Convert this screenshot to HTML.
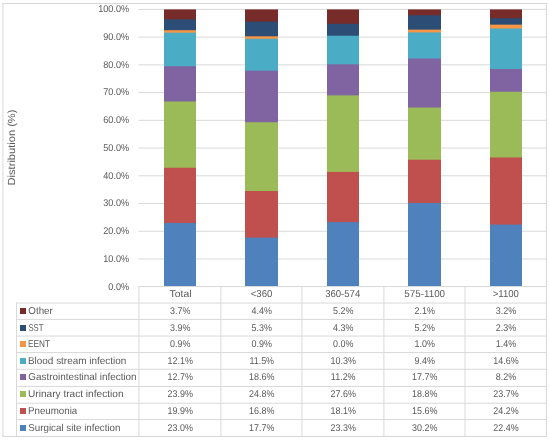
<!DOCTYPE html><html><head><meta charset="utf-8"><style>html,body{margin:0;padding:0;background:#fff;}svg{display:block;}text{font-family:"Liberation Sans", sans-serif;fill:#595959;text-rendering:geometricPrecision;}</style></head><body>
<svg width="550" height="440" viewBox="0 0 550 440">
<rect x="0" y="0" width="550" height="440" fill="#fff"/>
<rect x="138.40" y="258.47" width="408.10" height="1" fill="#d9d9d9"/>
<rect x="138.40" y="230.74" width="408.10" height="1" fill="#d9d9d9"/>
<rect x="138.40" y="203.01" width="408.10" height="1" fill="#d9d9d9"/>
<rect x="138.40" y="175.28" width="408.10" height="1" fill="#d9d9d9"/>
<rect x="138.40" y="147.55" width="408.10" height="1" fill="#d9d9d9"/>
<rect x="138.40" y="119.82" width="408.10" height="1" fill="#d9d9d9"/>
<rect x="138.40" y="92.09" width="408.10" height="1" fill="#d9d9d9"/>
<rect x="138.40" y="64.36" width="408.10" height="1" fill="#d9d9d9"/>
<rect x="138.40" y="36.63" width="408.10" height="1" fill="#d9d9d9"/>
<rect x="138.40" y="8.90" width="408.10" height="1" fill="#d9d9d9"/>
<text x="129.1" y="289.60" font-size="9.80" text-anchor="end" textLength="20.74" lengthAdjust="spacingAndGlyphs">0.0%</text>
<text x="129.1" y="261.87" font-size="9.80" text-anchor="end" textLength="25.80" lengthAdjust="spacingAndGlyphs">10.0%</text>
<text x="129.1" y="234.14" font-size="9.80" text-anchor="end" textLength="25.80" lengthAdjust="spacingAndGlyphs">20.0%</text>
<text x="129.1" y="206.41" font-size="9.80" text-anchor="end" textLength="25.80" lengthAdjust="spacingAndGlyphs">30.0%</text>
<text x="129.1" y="178.68" font-size="9.80" text-anchor="end" textLength="25.80" lengthAdjust="spacingAndGlyphs">40.0%</text>
<text x="129.1" y="150.95" font-size="9.80" text-anchor="end" textLength="25.80" lengthAdjust="spacingAndGlyphs">50.0%</text>
<text x="129.1" y="123.22" font-size="9.80" text-anchor="end" textLength="25.80" lengthAdjust="spacingAndGlyphs">60.0%</text>
<text x="129.1" y="95.49" font-size="9.80" text-anchor="end" textLength="25.80" lengthAdjust="spacingAndGlyphs">70.0%</text>
<text x="129.1" y="67.76" font-size="9.80" text-anchor="end" textLength="25.80" lengthAdjust="spacingAndGlyphs">80.0%</text>
<text x="129.1" y="40.03" font-size="9.80" text-anchor="end" textLength="25.80" lengthAdjust="spacingAndGlyphs">90.0%</text>
<text x="129.1" y="12.30" font-size="9.80" text-anchor="end" textLength="30.86" lengthAdjust="spacingAndGlyphs">100.0%</text>
<text transform="translate(14.9,185.41) rotate(-90)" x="0" y="0" font-size="10.30" textLength="75.80" lengthAdjust="spacingAndGlyphs">Distribution (%)</text>
<rect x="164" y="9.40" width="32" height="276.60" fill="#772c2a"/>
<rect x="164" y="19.38" width="32" height="266.62" fill="#2c4d75"/>
<rect x="164" y="30.20" width="32" height="255.80" fill="#f79646"/>
<rect x="164" y="32.69" width="32" height="253.31" fill="#4bacc6"/>
<rect x="164" y="66.25" width="32" height="219.75" fill="#8064a2"/>
<rect x="164" y="101.46" width="32" height="184.54" fill="#9bbb59"/>
<rect x="164" y="167.74" width="32" height="118.26" fill="#c0504d"/>
<rect x="164" y="222.92" width="32" height="63.08" fill="#4f81bd"/>
<rect x="245" y="9.40" width="33" height="276.60" fill="#772c2a"/>
<rect x="245" y="21.60" width="33" height="264.40" fill="#2c4d75"/>
<rect x="245" y="36.30" width="33" height="249.70" fill="#f79646"/>
<rect x="245" y="38.79" width="33" height="247.21" fill="#4bacc6"/>
<rect x="245" y="70.68" width="33" height="215.32" fill="#8064a2"/>
<rect x="245" y="122.26" width="33" height="163.74" fill="#9bbb59"/>
<rect x="245" y="191.03" width="33" height="94.97" fill="#c0504d"/>
<rect x="245" y="237.62" width="33" height="48.38" fill="#4f81bd"/>
<rect x="327" y="9.40" width="32" height="276.60" fill="#772c2a"/>
<rect x="327" y="23.82" width="32" height="262.18" fill="#2c4d75"/>
<rect x="327" y="35.74" width="32" height="250.26" fill="#4bacc6"/>
<rect x="327" y="64.31" width="32" height="221.69" fill="#8064a2"/>
<rect x="327" y="95.36" width="32" height="190.64" fill="#9bbb59"/>
<rect x="327" y="171.90" width="32" height="114.10" fill="#c0504d"/>
<rect x="327" y="222.09" width="32" height="63.91" fill="#4f81bd"/>
<rect x="408" y="9.40" width="33" height="276.60" fill="#772c2a"/>
<rect x="408" y="15.22" width="33" height="270.78" fill="#2c4d75"/>
<rect x="408" y="29.64" width="33" height="256.36" fill="#f79646"/>
<rect x="408" y="32.42" width="33" height="253.58" fill="#4bacc6"/>
<rect x="408" y="58.48" width="33" height="227.52" fill="#8064a2"/>
<rect x="408" y="107.56" width="33" height="178.44" fill="#9bbb59"/>
<rect x="408" y="159.70" width="33" height="126.30" fill="#c0504d"/>
<rect x="408" y="202.96" width="33" height="83.04" fill="#4f81bd"/>
<rect x="490" y="9.40" width="32" height="276.60" fill="#772c2a"/>
<rect x="490" y="18.27" width="32" height="267.73" fill="#2c4d75"/>
<rect x="490" y="24.65" width="32" height="261.35" fill="#f79646"/>
<rect x="490" y="28.53" width="32" height="257.47" fill="#4bacc6"/>
<rect x="490" y="69.02" width="32" height="216.98" fill="#8064a2"/>
<rect x="490" y="91.76" width="32" height="194.24" fill="#9bbb59"/>
<rect x="490" y="157.48" width="32" height="128.52" fill="#c0504d"/>
<rect x="490" y="224.58" width="32" height="61.42" fill="#4f81bd"/>
<rect x="138.40" y="286.05" width="408.10" height="1" fill="#d9d9d9"/>
<rect x="16" y="302.55" width="530.50" height="1" fill="#d9d9d9"/>
<rect x="16" y="318.90" width="530.50" height="1" fill="#d9d9d9"/>
<rect x="16" y="335.55" width="530.50" height="1" fill="#d9d9d9"/>
<rect x="16" y="352.05" width="530.50" height="1" fill="#d9d9d9"/>
<rect x="16" y="368.77" width="530.50" height="1" fill="#d9d9d9"/>
<rect x="16" y="385.95" width="530.50" height="1" fill="#d9d9d9"/>
<rect x="16" y="402.73" width="530.50" height="1" fill="#d9d9d9"/>
<rect x="16" y="419.07" width="530.50" height="1" fill="#d9d9d9"/>
<rect x="16" y="435.95" width="530.50" height="1" fill="#d9d9d9"/>
<rect x="16" y="302.55" width="1" height="134.40" fill="#d9d9d9"/>
<rect x="138.40" y="286.05" width="1" height="150.90" fill="#d9d9d9"/>
<rect x="220.40" y="286.05" width="1" height="150.90" fill="#d9d9d9"/>
<rect x="301.45" y="286.05" width="1" height="150.90" fill="#d9d9d9"/>
<rect x="383.40" y="286.05" width="1" height="150.90" fill="#d9d9d9"/>
<rect x="464.50" y="286.05" width="1" height="150.90" fill="#d9d9d9"/>
<text x="169.57" y="297.35" font-size="10.00" textLength="22.02" lengthAdjust="spacingAndGlyphs">Total</text>
<text x="250.63" y="297.35" font-size="10.00" textLength="21.74" lengthAdjust="spacingAndGlyphs">&lt;360</text>
<text x="325.14" y="297.35" font-size="10.00" textLength="35.14" lengthAdjust="spacingAndGlyphs">360-574</text>
<text x="404.31" y="297.35" font-size="10.00" textLength="40.76" lengthAdjust="spacingAndGlyphs">575-1100</text>
<text x="492.73" y="297.35" font-size="10.00" textLength="26.24" lengthAdjust="spacingAndGlyphs">&gt;1100</text>
<rect x="20" y="308.00" width="6" height="6" fill="#772c2a"/>
<text x="28.34" y="314.00" font-size="10.00" textLength="24.41" lengthAdjust="spacingAndGlyphs">Other</text>
<text x="180.20" y="314.00" font-size="9.80" text-anchor="middle" textLength="20.40" lengthAdjust="spacingAndGlyphs">3.7%</text>
<text x="261.73" y="314.00" font-size="9.80" text-anchor="middle" textLength="20.40" lengthAdjust="spacingAndGlyphs">4.4%</text>
<text x="343.22" y="314.00" font-size="9.80" text-anchor="middle" textLength="20.40" lengthAdjust="spacingAndGlyphs">5.2%</text>
<text x="424.75" y="314.00" font-size="9.80" text-anchor="middle" textLength="20.40" lengthAdjust="spacingAndGlyphs">2.1%</text>
<text x="506.03" y="314.00" font-size="9.80" text-anchor="middle" textLength="20.40" lengthAdjust="spacingAndGlyphs">3.2%</text>
<rect x="20" y="325.00" width="6" height="6" fill="#2c4d75"/>
<text x="28.45" y="331.00" font-size="10.00" textLength="15.02" lengthAdjust="spacingAndGlyphs">SST</text>
<text x="180.20" y="331.00" font-size="9.80" text-anchor="middle" textLength="20.40" lengthAdjust="spacingAndGlyphs">3.9%</text>
<text x="261.73" y="331.00" font-size="9.80" text-anchor="middle" textLength="20.40" lengthAdjust="spacingAndGlyphs">5.3%</text>
<text x="343.22" y="331.00" font-size="9.80" text-anchor="middle" textLength="20.40" lengthAdjust="spacingAndGlyphs">4.3%</text>
<text x="424.75" y="331.00" font-size="9.80" text-anchor="middle" textLength="20.40" lengthAdjust="spacingAndGlyphs">5.2%</text>
<text x="506.03" y="331.00" font-size="9.80" text-anchor="middle" textLength="20.40" lengthAdjust="spacingAndGlyphs">2.3%</text>
<rect x="20" y="341.00" width="6" height="6" fill="#f79646"/>
<text x="28.12" y="347.00" font-size="10.00" textLength="21.96" lengthAdjust="spacingAndGlyphs">EENT</text>
<text x="180.20" y="347.00" font-size="9.80" text-anchor="middle" textLength="20.40" lengthAdjust="spacingAndGlyphs">0.9%</text>
<text x="261.73" y="347.00" font-size="9.80" text-anchor="middle" textLength="20.40" lengthAdjust="spacingAndGlyphs">0.9%</text>
<text x="343.22" y="347.00" font-size="9.80" text-anchor="middle" textLength="20.40" lengthAdjust="spacingAndGlyphs">0.0%</text>
<text x="424.75" y="347.00" font-size="9.80" text-anchor="middle" textLength="20.40" lengthAdjust="spacingAndGlyphs">1.0%</text>
<text x="506.03" y="347.00" font-size="9.80" text-anchor="middle" textLength="20.40" lengthAdjust="spacingAndGlyphs">1.4%</text>
<rect x="20" y="358.00" width="6" height="6" fill="#4bacc6"/>
<text x="27.99" y="364.00" font-size="10.00" textLength="98.25" lengthAdjust="spacingAndGlyphs">Blood stream infection</text>
<text x="180.20" y="364.00" font-size="9.80" text-anchor="middle" textLength="25.38" lengthAdjust="spacingAndGlyphs">12.1%</text>
<text x="261.73" y="364.00" font-size="9.80" text-anchor="middle" textLength="24.71" lengthAdjust="spacingAndGlyphs">11.5%</text>
<text x="343.22" y="364.00" font-size="9.80" text-anchor="middle" textLength="25.38" lengthAdjust="spacingAndGlyphs">10.3%</text>
<text x="424.75" y="364.00" font-size="9.80" text-anchor="middle" textLength="20.40" lengthAdjust="spacingAndGlyphs">9.4%</text>
<text x="506.03" y="364.00" font-size="9.80" text-anchor="middle" textLength="25.38" lengthAdjust="spacingAndGlyphs">14.6%</text>
<rect x="20" y="374.00" width="6" height="6" fill="#8064a2"/>
<text x="28.31" y="380.00" font-size="10.00" textLength="108.33" lengthAdjust="spacingAndGlyphs">Gastrointestinal infection</text>
<text x="180.20" y="380.00" font-size="9.80" text-anchor="middle" textLength="25.38" lengthAdjust="spacingAndGlyphs">12.7%</text>
<text x="261.73" y="380.00" font-size="9.80" text-anchor="middle" textLength="25.38" lengthAdjust="spacingAndGlyphs">18.6%</text>
<text x="343.22" y="380.00" font-size="9.80" text-anchor="middle" textLength="24.71" lengthAdjust="spacingAndGlyphs">11.2%</text>
<text x="424.75" y="380.00" font-size="9.80" text-anchor="middle" textLength="25.38" lengthAdjust="spacingAndGlyphs">17.7%</text>
<text x="506.03" y="380.00" font-size="9.80" text-anchor="middle" textLength="20.40" lengthAdjust="spacingAndGlyphs">8.2%</text>
<rect x="20" y="391.00" width="6" height="6" fill="#9bbb59"/>
<text x="28.02" y="397.00" font-size="10.00" textLength="95.52" lengthAdjust="spacingAndGlyphs">Urinary tract infection</text>
<text x="180.20" y="397.00" font-size="9.80" text-anchor="middle" textLength="25.38" lengthAdjust="spacingAndGlyphs">23.9%</text>
<text x="261.73" y="397.00" font-size="9.80" text-anchor="middle" textLength="25.38" lengthAdjust="spacingAndGlyphs">24.8%</text>
<text x="343.22" y="397.00" font-size="9.80" text-anchor="middle" textLength="25.38" lengthAdjust="spacingAndGlyphs">27.6%</text>
<text x="424.75" y="397.00" font-size="9.80" text-anchor="middle" textLength="25.38" lengthAdjust="spacingAndGlyphs">18.8%</text>
<text x="506.03" y="397.00" font-size="9.80" text-anchor="middle" textLength="25.38" lengthAdjust="spacingAndGlyphs">23.7%</text>
<rect x="20" y="408.00" width="6" height="6" fill="#c0504d"/>
<text x="28.00" y="414.00" font-size="10.00" textLength="49.29" lengthAdjust="spacingAndGlyphs">Pneumonia</text>
<text x="180.20" y="414.00" font-size="9.80" text-anchor="middle" textLength="25.38" lengthAdjust="spacingAndGlyphs">19.9%</text>
<text x="261.73" y="414.00" font-size="9.80" text-anchor="middle" textLength="25.38" lengthAdjust="spacingAndGlyphs">16.8%</text>
<text x="343.22" y="414.00" font-size="9.80" text-anchor="middle" textLength="25.38" lengthAdjust="spacingAndGlyphs">18.1%</text>
<text x="424.75" y="414.00" font-size="9.80" text-anchor="middle" textLength="25.38" lengthAdjust="spacingAndGlyphs">15.6%</text>
<text x="506.03" y="414.00" font-size="9.80" text-anchor="middle" textLength="25.38" lengthAdjust="spacingAndGlyphs">24.2%</text>
<rect x="20" y="425.00" width="6" height="6" fill="#4f81bd"/>
<text x="28.36" y="431.00" font-size="10.00" textLength="92.06" lengthAdjust="spacingAndGlyphs">Surgical site infection</text>
<text x="180.20" y="431.00" font-size="9.80" text-anchor="middle" textLength="25.38" lengthAdjust="spacingAndGlyphs">23.0%</text>
<text x="261.73" y="431.00" font-size="9.80" text-anchor="middle" textLength="25.38" lengthAdjust="spacingAndGlyphs">17.7%</text>
<text x="343.22" y="431.00" font-size="9.80" text-anchor="middle" textLength="25.38" lengthAdjust="spacingAndGlyphs">23.3%</text>
<text x="424.75" y="431.00" font-size="9.80" text-anchor="middle" textLength="25.38" lengthAdjust="spacingAndGlyphs">30.2%</text>
<text x="506.03" y="431.00" font-size="9.80" text-anchor="middle" textLength="25.38" lengthAdjust="spacingAndGlyphs">22.4%</text>
<rect x="2.4" y="2.95" width="1" height="434" fill="#d9d9d9"/>
<rect x="2.4" y="2.95" width="545" height="1" fill="#d9d9d9"/>
<rect x="545.95" y="2.95" width="1" height="434" fill="#d9d9d9"/>
<rect x="2.4" y="435.95" width="544.55" height="1" fill="#d9d9d9"/>
</svg></body></html>
